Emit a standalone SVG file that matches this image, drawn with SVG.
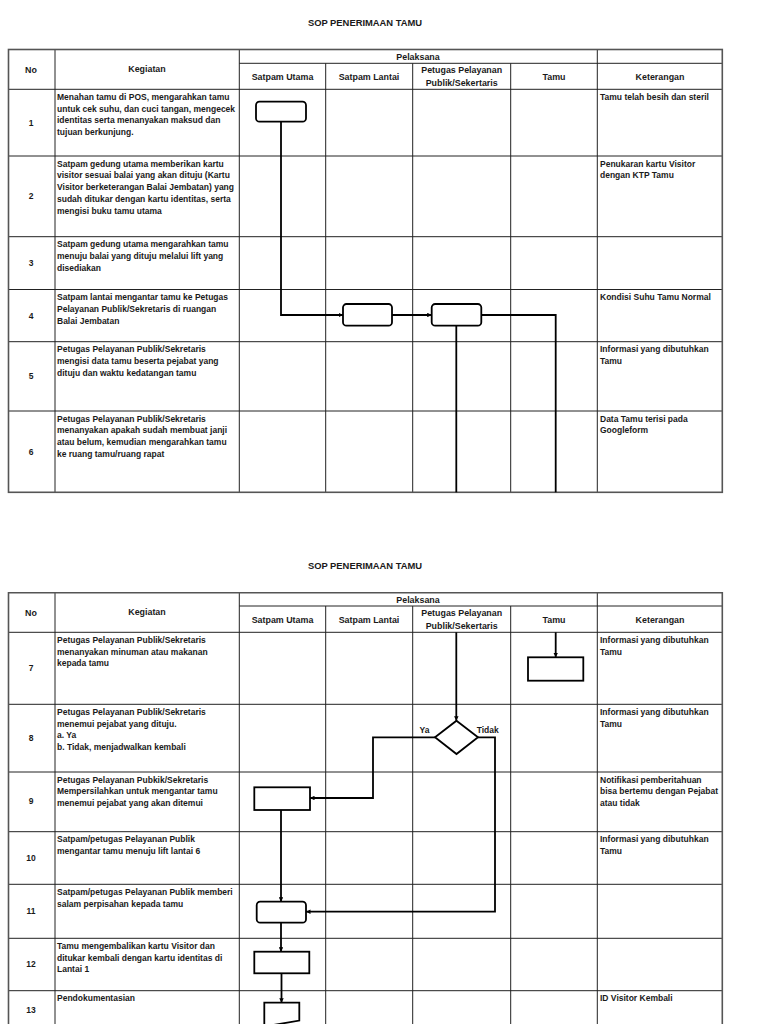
<svg xmlns="http://www.w3.org/2000/svg" width="768" height="1024" viewBox="0 0 768 1024">
<defs>
<marker id="arr" viewBox="0 0 10 10" refX="10" refY="5" markerWidth="4.5" markerHeight="4.5" orient="auto" markerUnits="userSpaceOnUse"><path d="M0,0 L10,5 L0,10 z" fill="#000"/></marker>
<style>
.g{stroke:#222;stroke-width:1;fill:none}
.o{stroke:#555;stroke-width:1.6;fill:none}
.t{font-family:"Liberation Sans",Arial,sans-serif;font-size:8.5px;font-weight:bold;fill:#1a1a1a}
.h{font-family:"Liberation Sans",Arial,sans-serif;font-size:8.9px;font-weight:bold;fill:#1a1a1a;text-anchor:middle}
.n{font-family:"Liberation Sans",Arial,sans-serif;font-size:8.5px;font-weight:bold;fill:#1a1a1a;text-anchor:middle}
.ti{font-family:"Liberation Sans",Arial,sans-serif;font-size:9.4px;font-weight:bold;fill:#1a1a1a;text-anchor:middle}
.s{fill:#fff;stroke:#000;stroke-width:1.8}
.c{fill:none;stroke:#000;stroke-width:1.8}
.ca{fill:none;stroke:#000;stroke-width:1.8;marker-end:url(#arr)}
</style>
</defs>
<rect width="768" height="1024" fill="#fff"/>

<!-- TOP TABLE -->
<g id="table1">
<text class="ti" x="365" y="26">SOP PENERIMAAN TAMU</text>
<g class="g">
<line x1="239.3" y1="63.3" x2="722.3" y2="63.3"/>
<line x1="8.5" y1="89.3" x2="722.3" y2="89.3"/>
<line x1="8.5" y1="156" x2="722.3" y2="156"/>
<line x1="8.5" y1="236.7" x2="722.3" y2="236.7"/>
<line x1="8.5" y1="289.5" x2="722.3" y2="289.5"/>
<line x1="8.5" y1="341.7" x2="722.3" y2="341.7"/>
<line x1="8.5" y1="411" x2="722.3" y2="411"/>
<line x1="55" y1="49.5" x2="55" y2="492.3"/>
<line x1="239.3" y1="49.5" x2="239.3" y2="492.3"/>
<line x1="325.7" y1="63.3" x2="325.7" y2="492.3"/>
<line x1="412.7" y1="63.3" x2="412.7" y2="492.3"/>
<line x1="510.7" y1="63.3" x2="510.7" y2="492.3"/>
<line x1="597.3" y1="49.5" x2="597.3" y2="492.3"/>
</g>
<rect class="o" x="8.5" y="49.5" width="713.8" height="442.8"/>
<text class="h" x="31" y="72.5">No</text>
<text class="h" x="147" y="71.5">Kegiatan</text>
<text class="h" x="418" y="59.8">Pelaksana</text>
<text class="h" x="282.5" y="79.5">Satpam Utama</text>
<text class="h" x="369" y="79.5">Satpam Lantai</text>
<text class="h" x="461.7" y="73">Petugas Pelayanan</text>
<text class="h" x="461.7" y="85.5">Publik/Sekertaris</text>
<text class="h" x="554" y="79.5">Tamu</text>
<text class="h" x="660" y="79.5">Keterangan</text>

<text class="n" x="31" y="125.5">1</text>
<text class="n" x="31" y="199">2</text>
<text class="n" x="31" y="266">3</text>
<text class="n" x="31" y="318.5">4</text>
<text class="n" x="31" y="379">5</text>
<text class="n" x="31" y="454.5">6</text>

<text class="t" x="57" y="100">Menahan tamu di POS, mengarahkan tamu</text>
<text class="t" x="57" y="111.7">untuk cek suhu, dan cuci tangan, mengecek</text>
<text class="t" x="57" y="123.4">identitas serta menanyakan maksud dan</text>
<text class="t" x="57" y="135.1">tujuan berkunjung.</text>
<text class="t" x="600" y="100">Tamu telah besih dan steril</text>

<text class="t" x="57" y="166.7">Satpam gedung utama memberikan kartu</text>
<text class="t" x="57" y="178.4">visitor sesuai balai yang akan dituju (Kartu</text>
<text class="t" x="57" y="190.1">Visitor berketerangan Balai Jembatan) yang</text>
<text class="t" x="57" y="201.8">sudah ditukar dengan kartu identitas, serta</text>
<text class="t" x="57" y="213.5">mengisi buku tamu utama</text>
<text class="t" x="600" y="166.7">Penukaran kartu Visitor</text>
<text class="t" x="600" y="178.4">dengan KTP Tamu</text>

<text class="t" x="57" y="247.4">Satpam gedung utama mengarahkan tamu</text>
<text class="t" x="57" y="259.1">menuju balai yang dituju melalui lift yang</text>
<text class="t" x="57" y="270.8">disediakan</text>

<text class="t" x="57" y="300.2">Satpam lantai mengantar tamu ke Petugas</text>
<text class="t" x="57" y="311.9">Pelayanan Publik/Sekretaris di ruangan</text>
<text class="t" x="57" y="323.6">Balai Jembatan</text>
<text class="t" x="600" y="300.2">Kondisi Suhu Tamu Normal</text>

<text class="t" x="57" y="352.4">Petugas Pelayanan Publik/Sekretaris</text>
<text class="t" x="57" y="364.1">mengisi data tamu beserta pejabat yang</text>
<text class="t" x="57" y="375.8">dituju dan waktu kedatangan tamu</text>
<text class="t" x="600" y="352.4">Informasi yang dibutuhkan</text>
<text class="t" x="600" y="364.1">Tamu</text>

<text class="t" x="57" y="421.7">Petugas Pelayanan Publik/Sekretaris</text>
<text class="t" x="57" y="433.4">menanyakan apakah sudah membuat janji</text>
<text class="t" x="57" y="445.1">atau belum, kemudian mengarahkan tamu</text>
<text class="t" x="57" y="456.8">ke ruang tamu/ruang rapat</text>
<text class="t" x="600" y="421.7">Data Tamu terisi pada</text>
<text class="t" x="600" y="433.4">Googleform</text>
</g>

<!-- BOTTOM TABLE -->
<g id="table2">
<text class="ti" x="365" y="569">SOP PENERIMAAN TAMU</text>
<g class="g">
<line x1="239.3" y1="606" x2="722.3" y2="606"/>
<line x1="8.5" y1="632.3" x2="722.3" y2="632.3"/>
<line x1="8.5" y1="704.3" x2="722.3" y2="704.3"/>
<line x1="8.5" y1="772" x2="722.3" y2="772"/>
<line x1="8.5" y1="831.7" x2="722.3" y2="831.7"/>
<line x1="8.5" y1="884.3" x2="722.3" y2="884.3"/>
<line x1="8.5" y1="938.3" x2="722.3" y2="938.3"/>
<line x1="8.5" y1="990.7" x2="722.3" y2="990.7"/>
<line x1="55" y1="592.7" x2="55" y2="1024"/>
<line x1="239.3" y1="592.7" x2="239.3" y2="1024"/>
<line x1="325.7" y1="606" x2="325.7" y2="1024"/>
<line x1="412.7" y1="606" x2="412.7" y2="1024"/>
<line x1="510.7" y1="606" x2="510.7" y2="1024"/>
<line x1="597.3" y1="592.7" x2="597.3" y2="1024"/>
</g>
<path class="o" d="M8.5,1025 V592.7 H722.3 V1025"/>
<text class="h" x="31" y="615.5">No</text>
<text class="h" x="147" y="614.5">Kegiatan</text>
<text class="h" x="418" y="602.8">Pelaksana</text>
<text class="h" x="282.5" y="622.5">Satpam Utama</text>
<text class="h" x="369" y="622.5">Satpam Lantai</text>
<text class="h" x="461.7" y="616">Petugas Pelayanan</text>
<text class="h" x="461.7" y="628.5">Publik/Sekertaris</text>
<text class="h" x="554" y="622.5">Tamu</text>
<text class="h" x="660" y="622.5">Keterangan</text>

<text class="n" x="31" y="671">7</text>
<text class="n" x="31" y="741">8</text>
<text class="n" x="31" y="804">9</text>
<text class="n" x="31" y="860.5">10</text>
<text class="n" x="31" y="914">11</text>
<text class="n" x="31" y="967">12</text>
<text class="n" x="31" y="1013">13</text>

<text class="t" x="57" y="643">Petugas Pelayanan Publik/Sekretaris</text>
<text class="t" x="57" y="654.7">menanyakan minuman atau makanan</text>
<text class="t" x="57" y="666.4">kepada tamu</text>
<text class="t" x="600" y="643">Informasi yang dibutuhkan</text>
<text class="t" x="600" y="654.7">Tamu</text>

<text class="t" x="57" y="715">Petugas Pelayanan Publik/Sekretaris</text>
<text class="t" x="57" y="726.7">menemui pejabat yang dituju.</text>
<text class="t" x="57" y="738.4">a. Ya</text>
<text class="t" x="57" y="750.1">b. Tidak, menjadwalkan kembali</text>
<text class="t" x="600" y="715">Informasi yang dibutuhkan</text>
<text class="t" x="600" y="726.7">Tamu</text>

<text class="t" x="57" y="782.7">Petugas Pelayanan Pubkik/Sekretaris</text>
<text class="t" x="57" y="794.4">Mempersilahkan untuk mengantar tamu</text>
<text class="t" x="57" y="806.1">menemui pejabat yang akan ditemui</text>
<text class="t" x="600" y="782.7">Notifikasi pemberitahuan</text>
<text class="t" x="600" y="794.4">bisa bertemu dengan Pejabat</text>
<text class="t" x="600" y="806.1">atau tidak</text>

<text class="t" x="57" y="842.4">Satpam/petugas Pelayanan Publik</text>
<text class="t" x="57" y="854.1">mengantar tamu menuju lift lantai 6</text>
<text class="t" x="600" y="842.4">Informasi yang dibutuhkan</text>
<text class="t" x="600" y="854.1">Tamu</text>

<text class="t" x="57" y="895">Satpam/petugas Pelayanan Publik memberi</text>
<text class="t" x="57" y="906.7">salam perpisahan kepada tamu</text>

<text class="t" x="57" y="949">Tamu mengembalikan kartu Visitor dan</text>
<text class="t" x="57" y="960.7">ditukar kembali dengan kartu identitas di</text>
<text class="t" x="57" y="972.4">Lantai 1</text>

<text class="t" x="57" y="1001.4">Pendokumentasian</text>
<text class="t" x="600" y="1001.4">ID Visitor Kembali</text>
</g>

<!-- CONNECTORS -->
<g id="connectors">
<polyline class="ca" points="281,121.7 281,315 343,315"/>
<line class="ca" x1="392" y1="315" x2="431.7" y2="315"/>
<polyline class="c" points="481.3,315 555.7,315 555.7,492.3"/>
<line class="c" x1="456.3" y1="325.7" x2="456.3" y2="492.3"/>
<line class="ca" x1="456.3" y1="632.3" x2="456.3" y2="720.7"/>
<line class="ca" x1="555.7" y1="632.3" x2="555.7" y2="657.3"/>
<polyline class="ca" points="435,737.3 373,737.3 373,798 310,798"/>
<polyline class="ca" points="478,737.3 495,737.3 495,911.7 306,911.7"/>
<line class="ca" x1="281" y1="810" x2="281" y2="901.7"/>
<line class="ca" x1="281" y1="922.7" x2="281" y2="951.7"/>
<line class="ca" x1="281.5" y1="973.3" x2="281.5" y2="1002.7"/>
<text class="t" x="419.5" y="732.5">Ya</text>
<text class="t" x="476.7" y="732.5">Tidak</text>
</g>

<!-- NODES -->
<g id="n1"><rect class="s" x="256" y="101.7" width="50" height="20" rx="3.5"/></g>
<g id="n4a"><rect class="s" x="343" y="304" width="49" height="21.7" rx="3.5"/></g>
<g id="n4b"><rect class="s" x="431.7" y="304" width="49.6" height="21.7" rx="3.5"/></g>
<g id="n7"><rect class="s" x="528" y="657.3" width="55.3" height="23.4"/></g>
<g id="n8"><polygon class="s" points="456.5,720.7 478,737.3 456.5,754 435,737.3"/></g>
<g id="n9"><rect class="s" x="254.3" y="787.3" width="55.7" height="22.7"/></g>
<g id="n11"><rect class="s" x="256.7" y="901.7" width="49.3" height="21" rx="3.5"/></g>
<g id="n12"><rect class="s" x="254.3" y="951.7" width="55" height="21.6"/></g>
<g id="n13"><path class="s" d="M264.3,1002.7 H299.3 V1020.6 L264.3,1026.5 Z"/></g>
</svg>
